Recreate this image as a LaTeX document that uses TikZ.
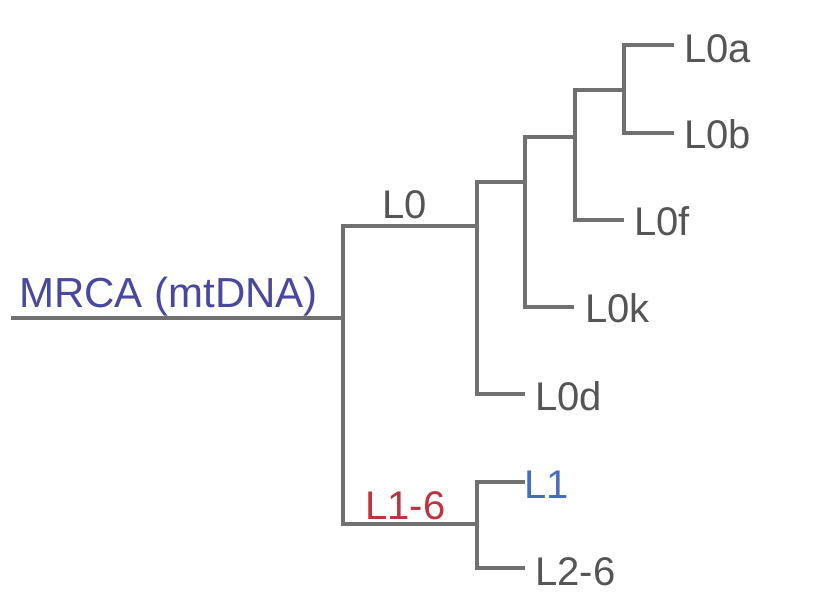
\documentclass[tikz,border=0pt]{standalone}
\usepackage{fontspec}
\setmainfont{Liberation Sans}
\definecolor{branch}{RGB}{112,112,112}
\definecolor{labgray}{RGB}{85,85,85}
\definecolor{mrca}{RGB}{72,72,160}
\definecolor{lred}{RGB}{190,52,62}
\definecolor{lblue}{RGB}{70,110,190}
\begin{document}
\begin{tikzpicture}[x=1pt,y=-1pt,
  br/.style={draw=branch,line width=3.2pt,line cap=rect},
  lab/.style={anchor=base west,inner sep=0pt,font=\fontsize{40}{40}\selectfont,text=labgray}]
\useasboundingbox (0,0) rectangle (838,608);
% coordinates
\coordinate (r) at (13,318);
\coordinate (j) at (343,318);
\coordinate (j0) at (477,226);
\coordinate (j0k) at (525,182);
\coordinate (j0f) at (575,137);
\coordinate (j0ab) at (624,90);
\coordinate (j1) at (477,524);
\coordinate (ea) at (672,45);
\coordinate (eb) at (672,133);
\coordinate (ef) at (622,220);
\coordinate (ek) at (572,307);
\coordinate (ed) at (523,394);
\coordinate (e1) at (523,482);
\coordinate (e26) at (523,568);
% branches
\draw[br] (r) -- (j);
\draw[br] (j) |- (j0);
\draw[br] (j) |- (j1);
\draw[br] (j0) |- (j0k);
\draw[br] (j0) |- (ed);
\draw[br] (j0k) |- (j0f);
\draw[br] (j0k) |- (ek);
\draw[br] (j0f) |- (j0ab);
\draw[br] (j0f) |- (ef);
\draw[br] (j0ab) |- (ea);
\draw[br] (j0ab) |- (eb);
\draw[br] (j1) |- (e1);
\draw[br] (j1) |- (e26);
% labels
\node[lab,text=mrca,font=\fontsize{42}{42}\selectfont] (mrca) at (19,307) {MRCA (mtDNA)};
\node[lab] (l0) at (382,218) {L0};
\node[lab,text=lred] (l16) at (365,519) {L1-6};
\node[lab] (l0a) at (684,62) {L0a};
\node[lab] (l0b) at (684,148) {L0b};
\node[lab] (l0f) at (634,235) {L0f};
\node[lab] (l0k) at (585,322) {L0k};
\node[lab] (l0d) at (535,410) {L0d};
\node[lab,text=lblue] (l1) at (524,498) {L1};
\node[lab] (l26) at (535,585) {L2-6};
\end{tikzpicture}
\end{document}
